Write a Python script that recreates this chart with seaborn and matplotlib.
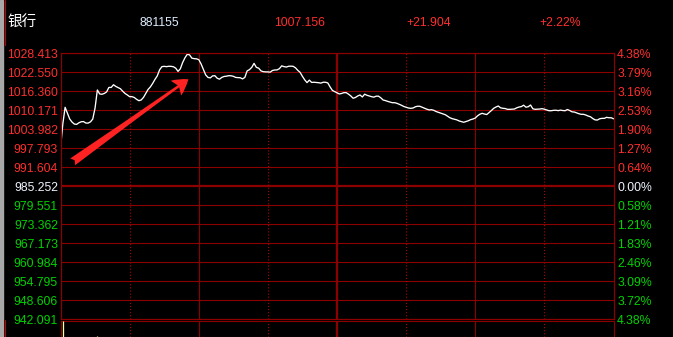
import matplotlib
matplotlib.use("Agg")
import matplotlib.pyplot as plt
from matplotlib.patches import Rectangle
from matplotlib.lines import Line2D
import seaborn as sns
import pandas as pd

# ---------------- data ----------------
title_name = "银行"
code = "881155"
last_price = "1007.156"
change = "+21.904"
change_pct = "+2.22%"

prev_close = 985.252
half_range = 43.161   # 1028.413 - 985.252

left_labels = ["1028.413", "1022.550", "1016.360", "1010.171", "1003.982",
               "997.793", "991.604", "985.252", "979.551", "973.362",
               "967.173", "960.984", "954.795", "948.606", "942.091"]   # top -> bottom
right_labels = ["4.38%", "3.79%", "3.16%", "2.53%", "1.90%", "1.27%", "0.64%",
                "0.00%", "0.58%", "1.21%", "1.83%", "2.46%", "3.09%", "3.72%",
                "4.38%"]                                                  # top -> bottom

price = [
    997.53, 1005.45, 1010.89, 1009.03, 1007.08, 1006.10, 1005.45, 1005.35, 1005.87, 1006.20,
    1006.26, 1005.77, 1005.77, 1006.16, 1007.08, 1010.66, 1016.52, 1015.22, 1015.12, 1015.38,
    1015.87, 1017.34, 1017.34, 1018.21, 1017.66, 1017.30, 1016.91, 1016.10, 1015.38, 1014.89,
    1014.34, 1014.34, 1014.08, 1013.49, 1013.04, 1013.26, 1014.08, 1015.38, 1016.68, 1017.50,
    1018.64, 1019.94, 1021.08, 1023.04, 1024.08, 1024.18, 1024.08, 1024.21, 1024.18, 1024.05,
    1023.59, 1022.55, 1023.36, 1025.41, 1026.94, 1028.08, 1027.92, 1026.85, 1026.68, 1026.62,
    1026.36, 1024.99, 1023.20, 1021.41, 1020.59, 1020.43, 1021.08, 1021.15, 1020.33, 1020.01,
    1020.59, 1020.89, 1020.98, 1021.15, 1021.12, 1020.95, 1020.59, 1020.52, 1020.49, 1020.10,
    1020.59, 1022.71, 1023.10, 1023.85, 1025.15, 1023.85, 1023.59, 1022.71, 1022.45, 1022.38,
    1022.38, 1022.29, 1022.84, 1023.00, 1023.03, 1023.43, 1024.34, 1024.08, 1023.95, 1024.21,
    1024.24, 1024.18, 1023.69, 1022.87, 1022.22, 1020.92, 1019.78, 1018.90, 1019.71, 1018.96,
    1019.02, 1018.96, 1018.87, 1018.74, 1019.02, 1019.02, 1018.80, 1017.50, 1016.36, 1015.97,
    1015.54, 1015.22, 1015.38, 1015.64, 1015.64, 1015.15, 1014.57, 1013.82, 1014.08, 1014.57,
    1014.89, 1014.24, 1015.15, 1014.79, 1014.57, 1014.34, 1014.18, 1014.50, 1014.50, 1013.98,
    1013.26, 1013.07, 1012.81, 1012.61, 1012.38, 1012.38, 1012.19, 1011.86, 1011.54, 1011.15,
    1010.89, 1010.66, 1010.56, 1010.66, 1011.05, 1011.24, 1011.21, 1010.89, 1010.59, 1010.27,
    1010.04, 1010.11, 1009.91, 1009.52, 1009.26, 1009.03, 1008.77, 1008.48, 1007.99, 1007.50,
    1007.20, 1007.01, 1006.81, 1006.46, 1006.23, 1006.03, 1006.29, 1006.52, 1006.88, 1007.08,
    1007.40, 1008.12, 1008.64, 1008.93, 1008.70, 1008.54, 1009.19, 1009.84, 1010.56, 1010.98,
    1011.31, 1010.72, 1010.56, 1010.49, 1010.23, 1010.23, 1010.27, 1010.33, 1010.72, 1010.98,
    1011.11, 1011.57, 1010.92, 1011.08, 1011.63, 1010.40, 1010.23, 1010.27, 1010.33, 1010.43,
    1010.27, 1010.01, 1009.78, 1009.78, 1009.91, 1009.94, 1009.81, 1009.97, 1009.84, 1009.78,
    1010.17, 1009.84, 1009.42, 1009.35, 1009.09, 1008.80, 1008.61, 1008.61, 1008.38, 1008.05,
    1007.82, 1007.24, 1006.81, 1006.75, 1007.17, 1007.30, 1007.30, 1007.63, 1007.50, 1007.50,
    1007.16,
]
minutes = list(range(len(price)))

vol_minutes = [1, 16]
vol_values = [100, 9]

arrow_tail = (5.3, 993.2)
arrow_head = (55.5, 1020.0)

# ---------------- style ----------------
sns.set_style("dark", {"axes.facecolor": "black", "figure.facecolor": "black"})
plt.rcParams['font.family'] = ['Liberation Sans', 'Noto Sans CJK SC', 'DejaVu Sans']

GRID = "#8c0000"
DOT = "#b00000"
RED = "#ff2e2e"
GREEN = "#00d200"
WHITE = "#f0f4ff"

W, H = 673, 337
fig = plt.figure(figsize=(W / 100, H / 100), dpi=100, facecolor="black")

ax = fig.add_axes([60.5 / W, 17.7 / H, 553 / W, 266 / H])
ax.set_facecolor("black")

df = pd.DataFrame({"minute": minutes, "price": price})
sns.lineplot(data=df, x="minute", y="price", ax=ax, color="white", lw=0.95, zorder=5)

ax.set_xlim(0, 240)
ax.set_ylim(prev_close - half_range, prev_close + half_range)
ax.grid(False)

step = half_range / 7
positions = [prev_close + k * step for k in range(-7, 8)]
for k, p in zip(range(-7, 8), positions):
    ax.axhline(p, color=GRID, lw=1.6 if k == 0 else 0.8, zorder=1)

for m in [30, 90, 150, 210]:
    ax.axvline(m, color=DOT, lw=0.8, ls=(0, (1, 1.8)), zorder=1)
for m in [60, 180]:
    ax.axvline(m, color=GRID, lw=0.8, zorder=1)
ax.axvline(120, color=GRID, lw=1.6, zorder=1)

for s in ax.spines.values():
    s.set_color(GRID)
    s.set_linewidth(0.8)

colors = [RED] * 7 + [WHITE] + [GREEN] * 7   # top -> bottom
ax.set_yticks(positions)
ax.set_yticklabels(left_labels[::-1])
for lab, c in zip(ax.get_yticklabels(), colors[::-1]):
    lab.set_color(c)
ax.tick_params(axis='y', length=0, pad=1.8, labelsize=8.8)
ax.set_xticks([])
ax.set_xlabel("")
ax.set_ylabel("")

ax2 = ax.twinx()
ax2.set_ylim(ax.get_ylim())
ax2.set_yticks(positions)
ax2.set_yticklabels(right_labels[::-1])
for lab, c in zip(ax2.get_yticklabels(), colors[::-1]):
    lab.set_color(c)
ax2.tick_params(axis='y', length=0, pad=2.6, labelsize=8.8)
ax2.grid(False)
for s in ax2.spines.values():
    s.set_color(GRID)
    s.set_linewidth(0.8)

ax.annotate("", xy=arrow_head, xytext=arrow_tail,
            arrowprops=dict(arrowstyle="fancy,head_length=0.55,head_width=0.65,tail_width=0.3",
                            color="#ff2222", mutation_scale=20, shrinkA=0, shrinkB=0, lw=0),
            zorder=6)

# volume panel
axv = fig.add_axes([60.5 / W, 0.0, 553 / W, 16.3 / H])
axv.set_facecolor("black")
axv.set_xlim(0, 240)
axv.set_ylim(0, 105)
axv.vlines(vol_minutes, 0, vol_values, color="#ffff99", lw=0.9, zorder=3)
for m in [30, 90, 150, 210]:
    axv.axvline(m, color=DOT, lw=0.8, ls=(0, (1, 1.8)), zorder=1)
for m in [60, 180]:
    axv.axvline(m, color=GRID, lw=0.8, zorder=1)
axv.axvline(120, color=GRID, lw=1.6, zorder=1)
axv.set_xticks([])
axv.set_yticks([])
axv.grid(False)
for s in axv.spines.values():
    s.set_color(GRID)
    s.set_linewidth(0.8)

# header
hy = (H - 22.5) / H
fig.text(7 / W, hy, title_name, ha="left", va="center", color="white", fontsize=10.5,
         family=['Noto Sans CJK SC', 'DejaVu Sans'])
fig.text(159.3 / W, hy, code, ha="center", va="center", color="#dcecff", fontsize=8.8)
fig.text(299.2 / W, hy, last_price, ha="center", va="center", color=RED, fontsize=8.8)
fig.text(428.8 / W, hy, change, ha="center", va="center", color=RED, fontsize=8.8)
fig.text(560.3 / W, hy, change_pct, ha="center", va="center", color=RED, fontsize=8.8)

# left window strip
fig.patches.append(Rectangle((0, 0), 3 / W, 1, transform=fig.transFigure,
                             color="#a8a8a8", zorder=0))
fig.lines.append(Line2D([4.5 / W, 4.5 / W], [(H - 45) / H, 1], transform=fig.transFigure,
                        color="#c00000", lw=0.8))
fig.lines.append(Line2D([4.5 / W, 4.5 / W], [0, 17 / H], transform=fig.transFigure,
                        color="#c00000", lw=0.8))

fig.savefig("out.png", dpi=100, facecolor="black")
